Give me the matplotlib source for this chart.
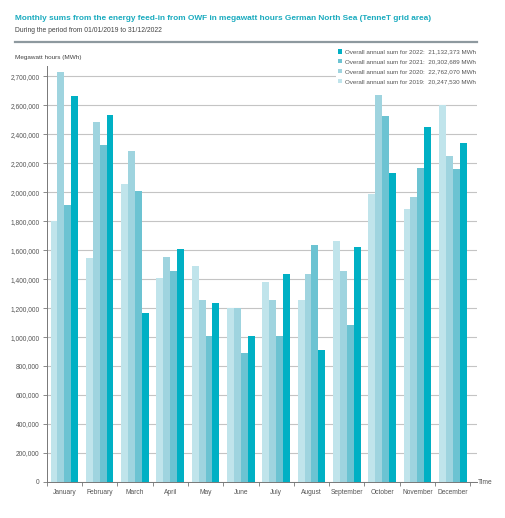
import matplotlib
matplotlib.use("Agg")
import matplotlib.pyplot as plt
import numpy as np

plt.rcParams['font.family'] = ['Liberation Sans', 'DejaVu Sans']

months = ["January", "February", "March", "April", "May", "June",
          "July", "August", "September", "October", "November", "December"]
years = ["2019", "2020", "2021", "2022"]
annual_sums = ["20,247,530", "22,762,070", "20,302,689", "21,132,373"]

# monthly feed-in, MWh
v2019 = [1798000, 1547000, 2054000, 1407000, 1490000, 1200000,
         1383000, 1253000, 1660000, 1989000, 1884000, 2604000]
v2020 = [2830000, 2485000, 2282000, 1552000, 1257000, 1203000,
         1257000, 1434000, 1457000, 2673000, 1969000, 2250000]
v2021 = [1911000, 2328000, 2010000, 1458000, 1009000, 893000,
         1009000, 1632000, 1083000, 2528000, 2169000, 2160000]
v2022 = [2662000, 2530000, 1163000, 1607000, 1234000, 1004000,
         1434000, 910000, 1623000, 2132000, 2450000, 2340000]

ytick_vals = [0, 200000, 400000, 600000, 800000, 1000000, 1200000, 1400000,
              1600000, 1800000, 2000000, 2200000, 2400000, 2600000, 2800000]
ytick_labels = ["0", "200,000", "400,000", "600,000", "800,000", "1,000,000",
                "1,200,000", "1,400,000", "1,600,000", "1,800,000", "2,000,000",
                "2,200,000", "2,400,000", "2,600,000", "2,700,000"]

colors = ["#c0e4eb", "#9fd4df", "#6cc3d2", "#00b0c4"]
teal = "#1aabbf"
grey_txt = "#555555"

fig = plt.figure(figsize=(5.05, 5.18), dpi=100)
ax = fig.add_axes([46.7 / 505, 36 / 518, 430 / 505, 416 / 518])

x = np.arange(len(months))
w = 0.196
series = [v2019, v2020, v2021, v2022]
bars = []
for i, vals in enumerate(series):
    b = ax.bar(x + (i - 1.5) * w, vals, width=w, color=colors[i], zorder=2)
    bars.append(b)

ax.set_xlim(-0.5, 11.68)
ax.set_ylim(0, 2870000)

ax.set_yticks(ytick_vals)
ax.set_yticklabels(ytick_labels)
ax.yaxis.grid(True, color="#c4c4c4", linewidth=0.8, zorder=0)
ax.set_axisbelow(True)

ax.set_xticks(np.arange(-0.5, 12, 1))
ax.set_xticklabels([])
ax.set_xticks(x, minor=True)
ax.set_xticklabels(months, minor=True)
ax.tick_params(axis="x", which="minor", length=0, pad=5, labelsize=4.8, labelcolor=grey_txt)
ax.tick_params(axis="x", which="major", length=3, width=0.6, color="#777777")
ax.tick_params(axis="y", length=3, width=0.6, color="#777777", labelsize=4.8,
               labelcolor=grey_txt, pad=2)

for s in ["top", "right"]:
    ax.spines[s].set_visible(False)
ax.spines["left"].set_color("#777777")
ax.spines["bottom"].set_color("#777777")
ax.spines["left"].set_linewidth(0.7)
ax.spines["bottom"].set_linewidth(0.7)

ax.text(1.003, 0, "Time", transform=ax.transAxes, fontsize=4.8, color=grey_txt,
        va="center", ha="left")

handles = [bars[i] for i in range(3, -1, -1)]
labels = ["Overall annual sum for %s:  %s MWh" % (years[i], annual_sums[i])
          for i in range(3, -1, -1)]
leg = ax.legend(handles, labels, loc="upper right",
                bbox_to_anchor=(478 / 505, 1 - 47.5 / 518),
                bbox_transform=fig.transFigure,
                fontsize=4.5, frameon=True, handlelength=0.65, handleheight=0.65,
                handletextpad=0.5, labelspacing=0.72, borderpad=0.3,
                borderaxespad=0.0)
leg.get_frame().set_facecolor("white")
leg.get_frame().set_edgecolor("none")
leg.get_frame().set_alpha(1)
for t in leg.get_texts():
    t.set_color(grey_txt)

fig.text(15 / 505, 1 - 18 / 518,
         "Monthly sums from the energy feed-in from OWF in megawatt hours German North Sea (TenneT grid area)",
         fontsize=5.95, fontweight="bold", color=teal, va="center", ha="left")
fig.text(15 / 505, 1 - 31 / 518, "During the period from 01/01/2019 to 31/12/2022",
         fontsize=4.9, color="#444444", va="center", ha="left")
fig.add_artist(plt.Line2D([15 / 505, 477 / 505], [1 - 42 / 518, 1 - 42 / 518],
                          color="#8e999f", linewidth=1.6))
fig.text(15 / 505, 1 - 58 / 518, "Megawatt hours (MWh)", fontsize=4.6,
         color="#444444", va="center", ha="left")

fig.savefig("out.png", dpi=100)
